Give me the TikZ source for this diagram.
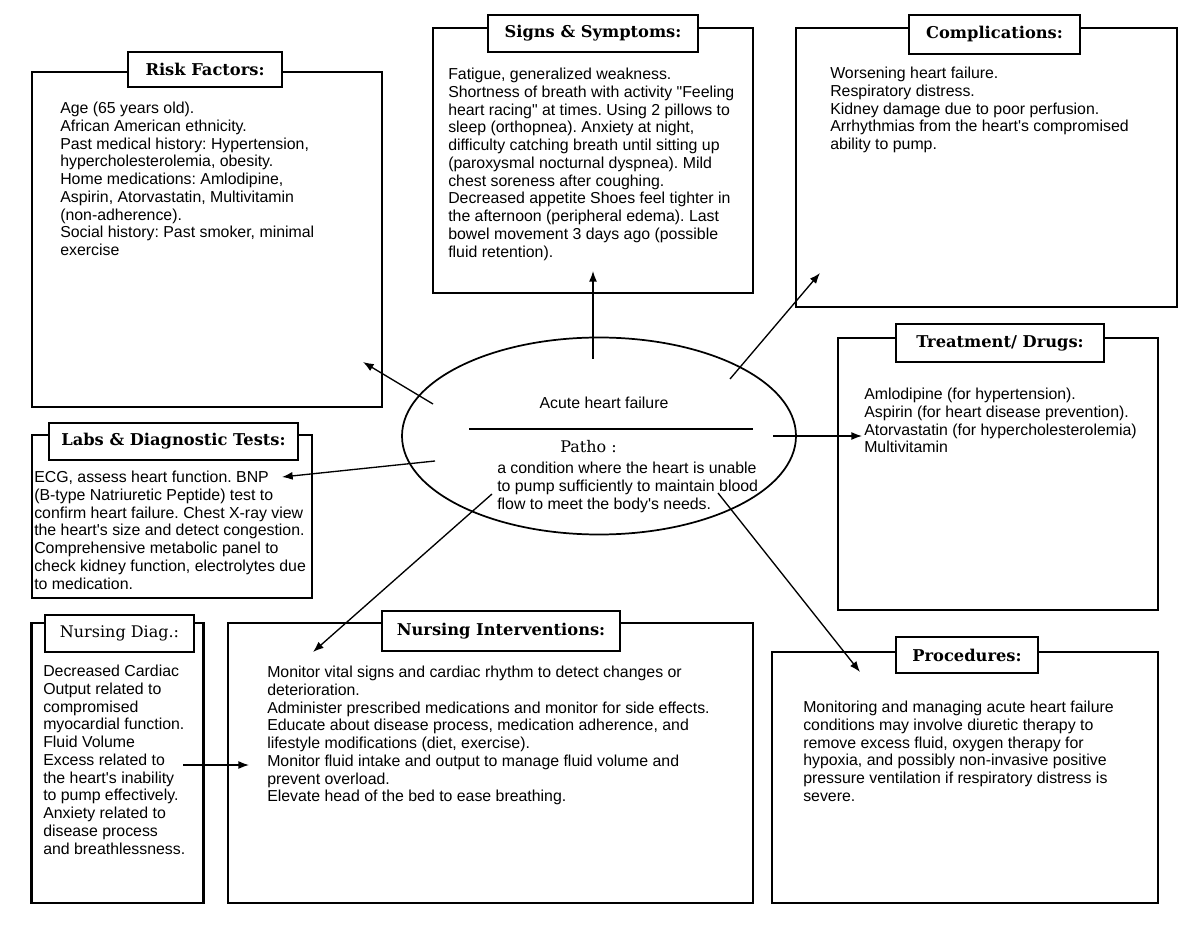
\documentclass[tikz,border=0pt]{standalone}
\usepackage{fontspec}
\setmainfont{Liberation Sans}[Ligatures=TeXOff]
\newfontfamily\headfont{DejaVu Serif}
\usetikzlibrary{arrows.meta,shapes.geometric,fit}
\frenchspacing

\begin{document}
\begin{tikzpicture}[x=0.75pt,y=-0.75pt,>={Latex[length=8pt,width=6pt]},
frame/.style={
rectangle,
draw,
line width=1.2pt,
inner sep=0pt
},
heading/.style={
rectangle,
draw,
fill=white,
line width=1.2pt,
inner sep=0pt,
font=\headfont\bfseries\fontsize{12.2}{14}\selectfont
},
notes/.style={
align=left,
inner sep=0pt,
anchor=north west,
font=\fontsize{11.9}{13.3}\selectfont
},
link/.style={->,line width=1pt}
]
\useasboundingbox (0,0) rectangle (1200,927);

% outer boxes
\node (risk) [frame, fit={(32,72) (382,407)}] {};
\node (signs) [frame, fit={(433,28) (753,293)}] {};
\node (compl) [frame, fit={(796,28) (1177,307)}] {};
\node (treat) [frame, fit={(838,338) (1158,610)}] {};
\node (labs) [frame, fit={(32,435) (312,598)}] {};
\node (diag) [frame, fit={(32,623) (203,903)}] {};
\node (inter) [frame, fit={(228,623) (753,903)}] {};
\node (proc) [frame, fit={(772,652) (1158,903)}] {};
\draw[line width=2.2pt] (diag.north west) -- (diag.south west) (diag.north east) -- (diag.south east);

% headings
\node (riskhead) [heading, minimum width=115.5pt, minimum height=26.25pt] at (205,69.5) {Risk Factors:};
\node (signshead) [heading, minimum width=157.5pt, minimum height=27.75pt] at (593,33.5) {Signs \& Symptoms:};
\node (complhead) [heading, minimum width=128.25pt, minimum height=29.25pt] at (994.5,34.5) {Complications:};
\node (treathead) [heading, minimum width=156pt, minimum height=28.5pt] at (1000,343) {Treatment/ Drugs:};
\node (labshead) [heading, minimum width=186.75pt, minimum height=27.75pt] at (173.5,441.5) {Labs \& Diagnostic Tests:};
\node (diaghead) [heading, font=\headfont\fontsize{12}{14}\selectfont, minimum width=111.75pt, minimum height=27.75pt] at (119.5,633.5) {Nursing Diag.:};
\node (interhead) [heading, minimum width=178.5pt, minimum height=30pt] at (501,631) {Nursing Interventions:};
\node (prochead) [heading, minimum width=106.5pt, minimum height=27pt] at (967,655) {Procedures:};

% box texts
\node (risktext) [notes] at (60,102) {Age (65 years old).\\
African American ethnicity.\\
Past medical history: Hypertension,\\
hypercholesterolemia, obesity.\\
Home medications: Amlodipine,\\
Aspirin, Atorvastatin, Multivitamin\\
(non-adherence).\\
Social history: Past smoker, minimal\\
exercise};
\node (signstext) [notes] at (448,68) {Fatigue, generalized weakness.\\
Shortness of breath with activity "Feeling\\
heart racing" at times. Using 2 pillows to\\
sleep (orthopnea). Anxiety at night,\\
difficulty catching breath until sitting up\\
(paroxysmal nocturnal dyspnea). Mild\\
chest soreness after coughing.\\
Decreased appetite Shoes feel tighter in\\
the afternoon (peripheral edema). Last\\
bowel movement 3 days ago (possible\\
fluid retention).};
\node (compltext) [notes] at (830,67) {Worsening heart failure.\\
Respiratory distress.\\
Kidney damage due to poor perfusion.\\
Arrhythmias from the heart's compromised\\
ability to pump.};
\node (treattext) [notes] at (864,388) {Amlodipine (for hypertension).\\
Aspirin (for heart disease prevention).\\
Atorvastatin (for hypercholesterolemia)\\
Multivitamin};
\node (labstext) [notes] at (34,471) {ECG, assess heart function. BNP\\
(B-type Natriuretic Peptide) test to\\
confirm heart failure. Chest X-ray view\\
the heart's size and detect congestion.\\
Comprehensive metabolic panel to\\
check kidney function, electrolytes due\\
to medication.};
\node (diagtext) [notes] at (43,665) {Decreased Cardiac\\
Output related to\\
compromised\\
myocardial function.\\
Fluid Volume\\
Excess related to\\
the heart's inability\\
to pump effectively.\\
Anxiety related to\\
disease process\\
and breathlessness.};
\node (intertext) [notes] at (267,666) {Monitor vital signs and cardiac rhythm to detect changes or\\
deterioration.\\
Administer prescribed medications and monitor for side effects.\\
Educate about disease process, medication adherence, and\\
lifestyle modifications (diet, exercise).\\
Monitor fluid intake and output to manage fluid volume and\\
prevent overload.\\
Elevate head of the bed to ease breathing.};
\node (proctext) [notes] at (803,701) {Monitoring and managing acute heart failure\\
conditions may involve diuretic therapy to\\
remove excess fluid, oxygen therapy for\\
hypoxia, and possibly non-invasive positive\\
pressure ventilation if respiratory distress is\\
severe.};

% centre
\node (core) [ellipse, draw, line width=1.3pt, minimum width=295.5pt, minimum height=147.75pt, inner sep=0pt] at (599,436) {};
\node (coretitle) [anchor=base, inner sep=0pt, font=\fontsize{11.9}{13.3}\selectfont] at (604,408) {Acute heart failure};
\draw[line width=1pt] (469,429) -- (753,429);
\node (patho) [anchor=base west, inner sep=0pt, font=\headfont\fontsize{12}{14}\selectfont] at (560,452) {Patho :};
\node (pathotext) [notes] at (497,462) {a condition where the heart is unable\\
to pump sufficiently to maintain blood\\
flow to meet the body's needs.};

% arrow ends
\coordinate (riskfrom) at (433,404);
\coordinate (riskto) at (363,362);
\coordinate (signsfrom) at (593,359);
\coordinate (signsto) at (593,271);
\coordinate (complfrom) at (730,379);
\coordinate (complto) at (820,273);
\coordinate (treatfrom) at (773,436);
\coordinate (treatto) at (862,436);
\coordinate (labsfrom) at (435,461);
\coordinate (labsto) at (282,477);
\coordinate (interfrom) at (492,494);
\coordinate (interto) at (313,652);
\coordinate (procfrom) at (718,493);
\coordinate (procto) at (860,672);
\coordinate (diagfrom) at (183,765);
\coordinate (diagto) at (249,765);

\draw[link] (riskfrom) -- (riskto);
\draw[link] (signsfrom) -- (signsto);
\draw[link] (complfrom) -- (complto);
\draw[link] (treatfrom) -- (treatto);
\draw[link] (labsfrom) -- (labsto);
\draw[link] (interfrom) -- (interto);
\draw[link] (procfrom) -- (procto);
\draw[link] (diagfrom) -- (diagto);
\end{tikzpicture}
\end{document}
